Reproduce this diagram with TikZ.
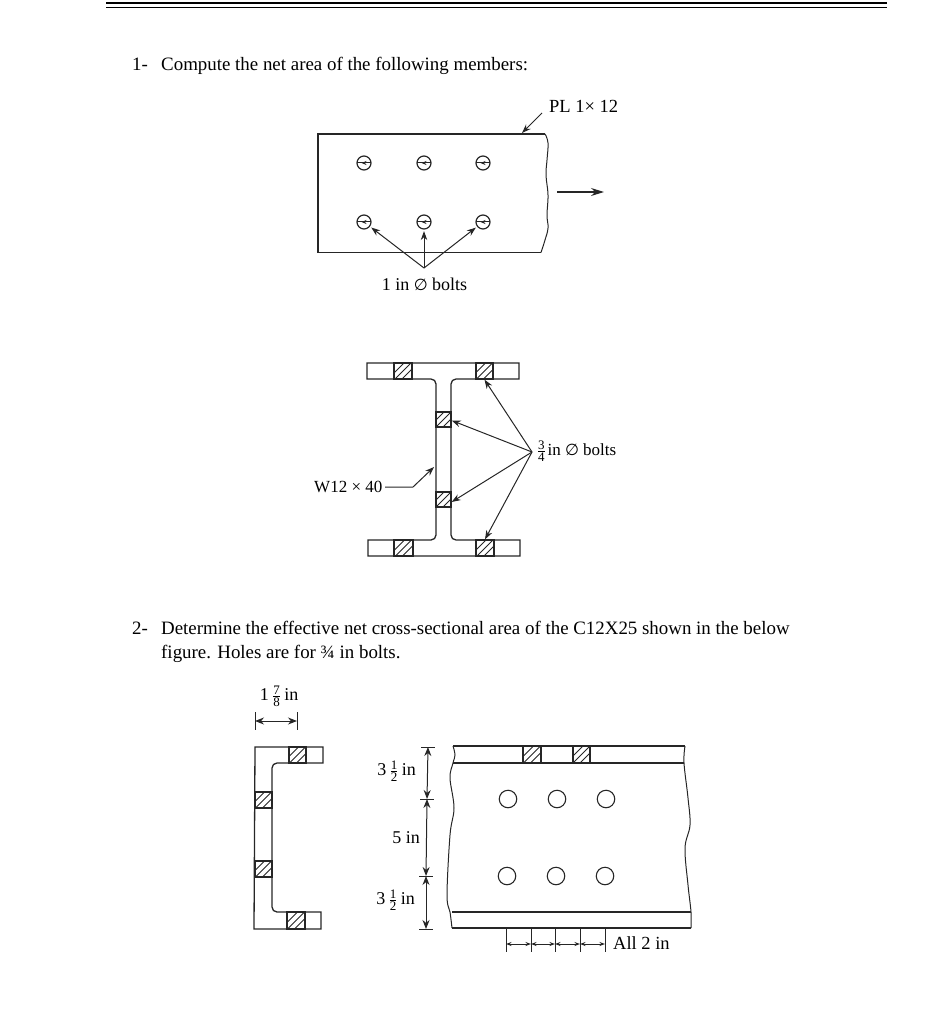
\documentclass[tikz,border=0pt]{standalone}
\usepackage{fontspec}
\setmainfont{Liberation Serif}
\newfontfamily\symfont{DejaVu Sans}
\usetikzlibrary{arrows.meta,calc}
\newcommand\frm[2]{$\vcenter{\offinterlineskip\halign{\hfil##\hfil\cr\fontsize{13}{13}\selectfont #1\cr\noalign{\kern1.2pt\hrule height .6pt\kern1.2pt}\fontsize{13}{13}\selectfont #2\cr}}$}
\newcommand\dia{{\symfont\fontsize{16}{18}\selectfont ∅}}
\tikzset{
  x=1pt,y=-1pt,
  body/.style={anchor=base west,inner sep=0pt,font=\fontsize{18.9}{22}\selectfont},
  lab/.style={inner sep=0pt,font=\fontsize{18}{20}\selectfont},
  part/.style={line width=1.3pt,draw=black!85},
  lead/.style={line width=1pt,draw=black!85,-{Stealth[length=9pt,width=6.5pt]}},
  leadb/.style={line width=1pt,draw=black!85,{Stealth[length=9pt,width=7pt]}-{Stealth[length=9pt,width=7pt]}},
  leads/.style={line width=.9pt,draw=black!85,{Stealth[length=5.5pt,width=4pt]}-{Stealth[length=5.5pt,width=4pt]}},
  tick/.style={line width=1pt,draw=black!85},
  hole/.style={circle,draw=black!85,line width=1.2pt,inner sep=0pt,minimum size=14pt,
    path picture={\draw[line width=1pt] (path picture bounding box.east) -- (path picture bounding box.west);\draw[line width=1pt,-{Stealth[length=5pt,width=4pt]}] ([xshift=3pt]path picture bounding box.center) -- ([xshift=-2.5pt]path picture bounding box.center);}},
  openhole/.style={circle,draw=black!85,line width=1.1pt,inner sep=0pt,minimum size=17.5pt},
  hatchbox/.style={rectangle,draw=black!85,line width=1.3pt,inner sep=0pt,
    path picture={\foreach \d in {-7,0,7}{\draw[line width=.9pt,black!85] ([shift={(-12+\d,12)}]path picture bounding box.center) -- ([shift={(12+\d,-12)}]path picture bounding box.center);}}},
}
\newcommand\hb[5]{\node[hatchbox,minimum width=#4-#2,minimum height=#5-#3] (#1) at ({(#2+#4)/2},{(#3+#5)/2}) {};}
\begin{document}
\begin{tikzpicture}
\useasboundingbox (0,0) rectangle (949,1024);
% top rules
\draw[line width=1.7pt] (106,3.3) -- (887,3.3);
\draw[line width=1.7pt] (106,7.5) -- (887,7.5);
% texts
\node[body] (q1) at (132,71) {\makebox[29pt][l]{1-}Compute the net area of the following members:};
\node[body] (q2a) at (132,634) {\makebox[29pt][l]{2-}Determine the effective net cross-sectional area of the C12X25 shown in the below};
\node[body] (q2b) at (161,658) {figure. Holes are for ¾ in bolts.};
% plate
\draw[part] (545,134) -- (318,134) -- (318,252.5) -- (541,252.5);
\draw[line width=1pt,black!85] plot[smooth,tension=.7] coordinates {(545,134) (548,143) (547,160) (546,175) (548,195) (547,215) (548,228) (545,240) (541,252.5)};
\foreach \n/\x/\y in {h1/364/163,h2/424/163,h3/483/163,h4/364/222,h5/424/222,h6/483/222}{
  \node[hole] (\n) at (\x,\y) {};
}
\node[lab] (boltlab) at (424.5,284) {1 in \dia{} bolts};
\coordinate (apex) at (424,268);
\draw[lead,shorten >=1.5pt] (apex) -- (h4);
\draw[lead,shorten >=1.5pt] (apex) -- (h5);
\draw[lead,shorten >=1.5pt] (apex) -- (h6);
\node[lab,anchor=west,font=\fontsize{18.5}{20}\selectfont] (pl) at (549,106) {PL 1× 12};
\coordinate (pla) at (542,113);
\coordinate (plb) at (522,133);
\draw[lead] (pla) -- (plb);
\coordinate (fa) at (557,192);
\coordinate (fb) at (604,192);
\draw[line width=1.3pt,black!85,-{Stealth[length=13pt,width=8pt]}] (fa) -- (fb);
% I beam
\draw[part] (367,363) -- (519,363) -- (519,379) [rounded corners=5pt] -- (451,379) -- (451,540) [sharp corners] -- (520,540) -- (520,556) -- (368,556) -- (368,540) [rounded corners=5pt] -- (436,540) -- (436,379) [sharp corners] -- (367,379) -- cycle;
\hb{ib1}{394}{363}{412}{379}
\hb{ib2}{476}{363}{493}{379}
\hb{ib3}{436}{412}{451}{427}
\hb{ib4}{436}{492}{451}{507}
\hb{ib5}{394}{540}{413}{556}
\hb{ib6}{476}{540}{494}{556}
\node[lab,anchor=west,font=\fontsize{17}{20}\selectfont] (bl2) at (538,451) {\frm{3}{4}\,in \dia{} bolts};
\coordinate (apex2) at (532,452);
\draw[lead] (apex2) -- (ib2.south);
\draw[lead] (apex2) -- ([yshift=-1pt]ib3.east);
\draw[lead] (apex2) -- ([yshift=-2.5pt]ib4.east);
\draw[lead] (apex2) -- (ib6.north);
\node[lab,anchor=west,font=\fontsize{17}{20}\selectfont] (wl) at (314,487) {W12 × 40};
\coordinate (wa) at (385,487);
\coordinate (wb) at (413,487);
\coordinate (wc) at (434,467);
\draw[lead] (wa) -- (wb) -- (wc);
% channel
\draw[part] (255,747) -- (323,747) -- (323,763) [rounded corners=5pt] -- (272,763) -- (272,912) [sharp corners] -- (321,912) -- (321,929) -- (254,929) -- cycle;
\hb{c1}{289}{747}{306}{763}
\hb{c2}{255}{792}{272}{808}
\hb{c3}{255}{861}{272}{877}
\hb{c4}{287}{912}{305}{929}
\coordinate (t1a) at (255,712); \coordinate (t1b) at (255,730);
\coordinate (t2a) at (297,712); \coordinate (t2b) at (297,730);
\draw[tick] (t1a) -- (t1b); \draw[tick] (t2a) -- (t2b);
\draw[leadb] (255,721) -- (297,721);
\node[lab] (d1) at (279,696) {1 \frm{7}{8} in};
% vertical dimension
\coordinate (v0) at (428,747); \coordinate (v1) at (427,799); \coordinate (v2) at (426,876); \coordinate (v3) at (426,929);
\draw[tick] (421,747) -- (435,747);
\draw[tick] (420,799) -- (434,799);
\draw[tick] (419,876) -- (433,876);
\draw[tick] (419,929) -- (433,929);
\draw[leadb] (v0) -- (v1);
\draw[leadb] (v1) -- (v2);
\draw[leadb] (v2) -- (v3);
\node[lab] (d2) at (396.5,771) {3 \frm{1}{2} in};
\node[lab] (d3) at (406,838) {5 in};
\node[lab] (d4) at (395.5,900) {3 \frm{1}{2} in};
% elevation
\draw[part] (453,746) -- (685,746);
\draw[part] (453,763) -- (684,763);
\draw[part] (452,912) -- (691,912);
\draw[part] (452,928) -- (691,928);
\draw[line width=1pt,black!85] plot[smooth,tension=.6] coordinates {(453,746) (455,755) (453,763) (450,778) (454,808) (450,835) (447,895) (450,912) (452,928)};
\draw[line width=1pt,black!85] plot[smooth,tension=.6] coordinates {(685,746) (684,763) (688,798) (690,825) (685,848) (688,885) (691,912) (691,928)};
\hb{e1}{523}{746}{541}{763}
\hb{e2}{573}{746}{590}{763}
\foreach \n/\x/\y in {o1/508/799,o2/557/799,o3/606/799,o4/507/876,o5/556/876,o6/605/876}{
  \node[openhole] (\n) at (\x,\y) {};
}
\foreach \n/\x in {s0/506,s1/531,s2/555,s3/580,s4/605}{
  \coordinate (\n) at (\x,944);
  \draw[tick] (\x,928) -- (\x,952);
}
\draw[leads] (s0) -- (s1);
\draw[leads] (s1) -- (s2);
\draw[leads] (s2) -- (s3);
\draw[leads] (s3) -- (s4);
\node[lab,anchor=west,font=\fontsize{18.5}{20}\selectfont] (all) at (613,943) {All 2 in};
\end{tikzpicture}
\end{document}
